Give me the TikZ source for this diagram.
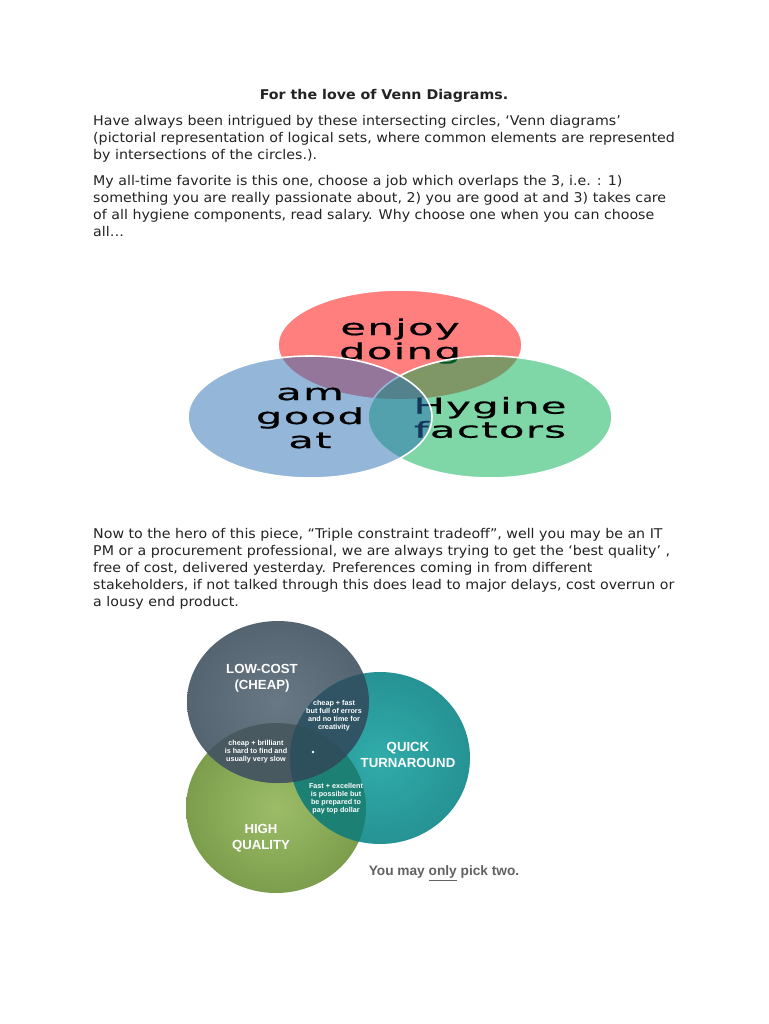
\documentclass[tikz,border=0pt]{standalone}
\usepackage{fontspec}
\setmainfont[FakeStretch=1.06]{DejaVu Sans}
\newfontfamily\vennfont[FakeStretch=1.9,LetterSpace=6,FakeBold=0.6]{DejaVu Sans}
\newfontfamily\infofont{Liberation Sans}

\definecolor{bodytext}{RGB}{35,35,35}
\definecolor{vennred}{RGB}{255,0,0}
\definecolor{vennblue}{RGB}{40,110,180}
\definecolor{venngreen}{RGB}{0,175,80}
\definecolor{cheapin}{RGB}{104,120,132}
\definecolor{cheapout}{RGB}{84,100,112}
\definecolor{quickin}{RGB}{48,172,170}
\definecolor{quickout}{RGB}{38,146,148}
\definecolor{qualin}{RGB}{156,188,104}
\definecolor{qualout}{RGB}{124,158,76}
\definecolor{cheapqual}{RGB}{72,90,96}
\definecolor{cheapquick}{RGB}{48,84,100}
\definecolor{quickqual}{RGB}{28,128,116}
\definecolor{allthree}{RGB}{46,80,92}
\definecolor{picktwo}{RGB}{98,98,98}

\tikzset{
  bodyline/.style={anchor=base west, inner sep=0pt, text=bodytext,
    font=\fontsize{13.4}{15}\selectfont},
  bigword/.style={align=center, inner sep=0pt, text=black,
    font=\vennfont\fontsize{22}{24}\selectfont},
  setlabel/.style={align=center, inner sep=0pt, text=white,
    font=\infofont\bfseries\fontsize{13.2}{16}\selectfont},
  smalllabel/.style={align=center, inner sep=0pt, text=white,
    font=\infofont\bfseries\fontsize{7.2}{8}\selectfont},
  topsize/.style={x radius=122, y radius=55},
  sidesize/.style={x radius=122, y radius=61},
  cheapsize/.style={x radius=91, y radius=81},
  quicksize/.style={x radius=90, y radius=86},
  qualsize/.style={x radius=90, y radius=85},
  vennfill/.style={fill=#1, fill opacity=.5, draw=white, line width=1.6pt}
}

\begin{document}
\begin{tikzpicture}[x=1pt,y=-1pt]
  \useasboundingbox (0,0) rectangle (768,1024);
  \fill[white] (0,0) rectangle (768,1024);

  % nadpis a text
  \node[anchor=base, inner sep=0pt, text=bodytext,
    font=\bfseries\fontsize{13.4}{15}\selectfont] (title) at (384,100)
    {For the love of Venn Diagrams.};
  \node[bodyline] (p1a) at (93,125.5) {Have always been intrigued by these intersecting circles, ‘Venn diagrams’};
  \node[bodyline] (p1b) at (93,142.5) {(pictorial representation of logical sets, where common elements are represented};
  \node[bodyline] (p1c) at (93,159.5) {by intersections of the circles.).};

  \node[bodyline] (p2a) at (93,185.5) {My all-time favorite is this one, choose a job which overlaps the 3, i.e. : 1)};
  \node[bodyline] (p2b) at (93,202.5) {something you are really passionate about, 2) you are good at and 3) takes care};
  \node[bodyline] (p2c) at (93,219.5) {of all hygiene components, read salary. Why choose one when you can choose};
  \node[bodyline] (p2d) at (93,236.5) {all…};

  % prvni diagram
  \coordinate (enjoy) at (400,345);
  \coordinate (good) at (310,417);
  \coordinate (hyg) at (490,417);

  \filldraw[vennfill=vennred] (enjoy) ellipse [topsize];
  \node[bigword] (enjoytxt) at (400,341) {enjoy\\doing};
  \filldraw[vennfill=venngreen] (hyg) ellipse [sidesize];
  \node[bigword] (hygtxt) at (490,417.5) {Hygine\\factors};
  \filldraw[vennfill=vennblue] (good) ellipse [sidesize];
  \node[bigword] (goodtxt) at (310,418) {am\\good\\at};

  % dalsi odstavec
  \node[bodyline] (p3a) at (93,538.5) {Now to the hero of this piece, “Triple constraint tradeoff”, well you may be an IT};
  \node[bodyline] (p3b) at (93,555.5) {PM or a procurement professional, we are always trying to get the ‘best quality’ ,};
  \node[bodyline] (p3c) at (93,572.5) {free of cost, delivered yesterday. Preferences coming in from different};
  \node[bodyline] (p3d) at (93,589.5) {stakeholders, if not talked through this does lead to major delays, cost overrun or};
  \node[bodyline] (p3e) at (93,606.5) {a lousy end product.};

  % druhy diagram
  \coordinate (cheap) at (278,702);
  \coordinate (quick) at (380,758);
  \coordinate (qual) at (276,808);

  \shade[inner color=qualin, outer color=qualout] (qual) ellipse [qualsize];
  \shade[inner color=cheapin, outer color=cheapout] (cheap) ellipse [cheapsize];
  \shade[inner color=quickin, outer color=quickout] (quick) ellipse [quicksize];

  \begin{scope}
    \clip (quick) ellipse [quicksize];
    \fill[quickqual] (qual) ellipse [qualsize];
  \end{scope}
  \begin{scope}
    \clip (cheap) ellipse [cheapsize];
    \fill[cheapqual] (qual) ellipse [qualsize];
    \fill[cheapquick] (quick) ellipse [quicksize];
    \clip (qual) ellipse [qualsize];
    \fill[allthree] (quick) ellipse [quicksize];
  \end{scope}

  \node[setlabel] (cheaptxt) at (262,678) {LOW-COST\\(CHEAP)};
  \node[setlabel] (quicktxt) at (408,755) {QUICK\\TURNAROUND};
  \node[setlabel] (qualtxt) at (261,838) {HIGH\\QUALITY};

  \node[smalllabel] (fasttxt) at (334,716) {cheap + fast\\but full of errors\\and no time for\\creativity};
  \node[smalllabel] (brilltxt) at (256,752) {cheap + brilliant\\is hard to find and\\usually very slow};
  \node[smalllabel] (dollartxt) at (336,799) {Fast + excellent\\is possible but\\be prepared to\\pay top dollar};

  \coordinate (dot) at (313,752);
  \fill[white] (dot) circle (1.3);

  \node[anchor=center, inner sep=0pt, text=picktwo,
    font=\infofont\bfseries\fontsize{13.7}{15}\selectfont] (picktxt) at (444,873)
    {You may \underline{only} pick two.};
\end{tikzpicture}
\end{document}
